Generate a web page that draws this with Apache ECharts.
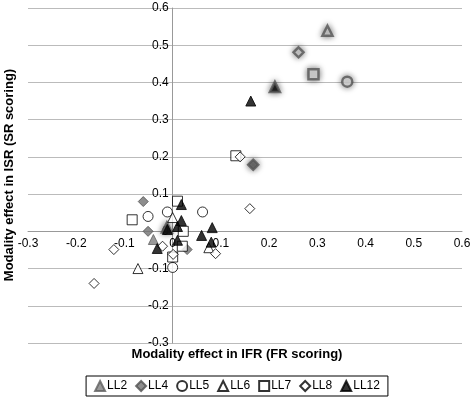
<!DOCTYPE html><html><head><meta charset="utf-8"><script src="https://cdn.jsdelivr.net/npm/echarts@6/dist/echarts.min.js"></script></head><body style="margin:0"><div id="c" style="width:474px;height:402px"></div><script>
const seriesNames=['LL2','LL4','LL5','LL6','LL7','LL8','LL12'];
const LL2=[[-0.04,-0.022]], LL2h=[[-0.012,0.01]];
const LL4=[[-0.061,0.08],[-0.051,0],[0.03,-0.049]], LL4h=[[0.167,0.179]];
const LL5=[[-0.051,0.04],[-0.011,0.052],[0.062,0.052],[0,-0.097]], LL5h=[[0.362,0.402]];
const LL6=[[0,0.037],[0.075,-0.044],[-0.072,-0.1]], LL6h=[[0.321,0.539]];
const LL7=[[-0.084,0.031],[0.01,0.081],[0.022,0],[0.02,-0.04],[0,-0.069],[0.131,0.203]], LL7h=[[0.292,0.422]];
const LL8=[[-0.021,-0.04],[0.001,-0.062],[0.089,-0.06],[0.16,0.061],[-0.122,-0.049],[-0.163,-0.14],[0.14,0.2]], LL8h=[[0.261,0.481]];
const LL12=[[0.018,0.072],[0.018,0.029],[-0.011,0.005],[0.01,0.013],[-0.032,-0.046],[0.01,-0.024],[0.06,-0.011],[0.082,0.01],[0.08,-0.029],[0.162,0.35]], LL12h=[[0.212,0.388]];
const data=[LL2,LL4,LL5,LL6,LL7,LL8,LL12], hi=[LL2h,LL4h,LL5h,LL6h,LL7h,LL8h,LL12h];
const styles=[
 {symbol:'triangle',color:'#808080',border:'#606060',size:10},
 {symbol:'diamond',color:'#707070',border:'#505050',size:10},
 {symbol:'circle',color:'#fff',border:'#000',size:10},
 {symbol:'triangle',color:'#fff',border:'#000',size:10},
 {symbol:'rect',color:'#fff',border:'#000',size:10},
 {symbol:'diamond',color:'#fff',border:'#000',size:10},
 {symbol:'triangle',color:'#000',border:'#000',size:10}];
const series=seriesNames.map((n,i)=>({name:n,type:'scatter',symbol:styles[i].symbol,symbolSize:styles[i].size,
 itemStyle:{color:styles[i].color,borderColor:styles[i].border,borderWidth:1},
 data:data[i].concat(hi[i].map(p=>({value:p,itemStyle:{borderColor:'#555',borderWidth:2.5,shadowBlur:6,shadowColor:'rgba(0,0,0,0.6)'}})))}));
const ax={min:-0.3,max:0.6,interval:0.1,axisLine:{onZero:false,lineStyle:{color:'#999'}},axisTick:{show:false},
 axisLabel:{color:'#000',fontSize:12,fontFamily:'Liberation Sans',formatter:v=>String(Math.round(v*10)/10)}};
const ch=echarts.init(document.getElementById('c'));
ch.setOption({animation:false,grid:{left:28,right:12,top:8,bottom:59},
 xAxis:Object.assign({},ax,{offset:-111.7,splitLine:{show:false},axisLabel:Object.assign({},ax.axisLabel,{margin:6})}),
 yAxis:Object.assign({},ax,{offset:-144.7,splitLine:{show:true,lineStyle:{color:'#bbb'}},axisLabel:Object.assign({},ax.axisLabel,{margin:4})}),
 legend:{bottom:6,left:'center',itemWidth:10,itemHeight:10,itemGap:8,borderColor:'#000',borderWidth:1,padding:[4,8],
  textStyle:{fontSize:12,fontFamily:'Liberation Sans',color:'#000',padding:[0,0,0,-3]},data:seriesNames},
 graphic:[{type:'text',left:'center',top:348,style:{text:'Modality effect in IFR (FR scoring)',font:'bold 13px Liberation Sans',fill:'#000'}},
  {type:'text',x:3,y:175,rotation:Math.PI/2,style:{text:'Modality effect in ISR (SR scoring)',font:'bold 13px Liberation Sans',fill:'#000',align:'center',verticalAlign:'top'}}],
 series});
</script></body></html>
